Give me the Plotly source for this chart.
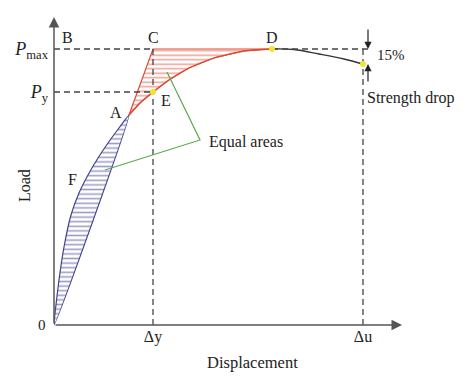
import plotly.graph_objects as go

# ---- data (schematic units) ----
delta_y = 99      # yield displacement
delta_u = 309     # ultimate displacement
P_y = 233         # yield load
P_max = 276       # peak load

rise_x = [0, 1.5, 5, 10, 17, 25, 34, 44, 54, 65, 75]       # O -> A
rise_y = [0, 16, 45, 78, 110, 132, 150, 167, 182, 197, 210]
peak_x = [75, 86, 99, 115, 135, 160, 190, 218]              # A -> D
peak_y = [210, 222, 233, 245, 257, 267, 274, 276]
drop_x = [218, 240, 265, 290, 309]                          # D -> end
drop_y = [276, 275.5, 271, 266, 261]

green_x = [51, 146, 113]
green_y = [155, 185, 253]

X_MAX = 348
Y_MAX = 308

FONT = "Liberation Serif"
BLUE = "#40408c"
RED = "#de4a32"
GREEN = "#5ea84e"
DASH = "#444444"
AX = "#555555"
TXT = "#222222"

fig = go.Figure()

# blue hatched area (curve vs secant O-A)
fig.add_trace(go.Scatter(
    x=rise_x + [rise_x[0]], y=rise_y + [rise_y[0]],
    mode="lines", line=dict(color=BLUE, width=1.2, shape="spline", smoothing=0.5),
    fill="toself", fillcolor="rgba(0,0,0,0)",
    fillpattern=dict(shape="-", fgcolor=BLUE, bgcolor="rgba(0,0,0,0)", size=4.6, solidity=0.35),
    hoverinfo="skip"))

# red hatched area (A-C-D vs curve)
fig.add_trace(go.Scatter(
    x=[peak_x[0], delta_y, peak_x[-1]] + peak_x[::-1],
    y=[peak_y[0], P_max, peak_y[-1]] + peak_y[::-1],
    mode="lines", line=dict(color=RED, width=1.2),
    fill="toself", fillcolor="rgba(0,0,0,0)",
    fillpattern=dict(shape="-", fgcolor=RED, bgcolor="rgba(0,0,0,0)", size=4.5, solidity=0.35),
    hoverinfo="skip"))
fig.add_trace(go.Scatter(x=peak_x, y=peak_y, mode="lines",
                         line=dict(color=RED, width=1.3, shape="spline", smoothing=0.6), hoverinfo="skip"))

# descending branch
fig.add_trace(go.Scatter(x=drop_x, y=drop_y, mode="lines",
                         line=dict(color="#333333", width=1.3, shape="spline"), hoverinfo="skip"))

# dashed guides
dash = dict(color=DASH, width=1.3, dash="6px,4px")
fig.add_trace(go.Scatter(x=[0, delta_y], y=[P_max, P_max], mode="lines", line=dash, hoverinfo="skip"))
fig.add_trace(go.Scatter(x=[drop_x[0], delta_u + 5], y=[P_max, P_max], mode="lines", line=dash, hoverinfo="skip"))
fig.add_trace(go.Scatter(x=[0, delta_y], y=[P_y, P_y], mode="lines", line=dash, hoverinfo="skip"))
fig.add_trace(go.Scatter(x=[delta_y, delta_y], y=[P_max, 0], mode="lines", line=dash, hoverinfo="skip"))
fig.add_trace(go.Scatter(x=[delta_u, delta_u], y=[P_max, 0], mode="lines", line=dash, hoverinfo="skip"))

# green leader line
fig.add_trace(go.Scatter(x=green_x, y=green_y, mode="lines",
                         line=dict(color=GREEN, width=1.2), hoverinfo="skip"))

# yellow key points
fig.add_trace(go.Scatter(x=[delta_y, drop_x[0], drop_x[-1]], y=[P_y, P_max, drop_y[-1]],
                         mode="markers", marker=dict(color="#f2e530", size=6), hoverinfo="skip"))

ann = []
# axes with arrowheads
ann.append(dict(x=X_MAX, y=0, ax=0, ay=0, xref="x", yref="y", axref="x", ayref="y",
                showarrow=True, arrowhead=2, arrowsize=1.4, arrowwidth=1.5, arrowcolor=AX,
                standoff=0, text=""))
ann.append(dict(x=0, y=Y_MAX, ax=0, ay=0, xref="x", yref="y", axref="x", ayref="y",
                showarrow=True, arrowhead=2, arrowsize=1.4, arrowwidth=1.5, arrowcolor=AX,
                standoff=0, text=""))
# 15% arrows
ann.append(dict(x=delta_u + 5, y=P_max, ax=delta_u + 5, ay=297, xref="x", yref="y", axref="x", ayref="y",
                showarrow=True, arrowhead=2, arrowsize=1.2, arrowwidth=1.2, arrowcolor="#222",
                standoff=0, text=""))
ann.append(dict(x=delta_u + 5, y=drop_y[-1], ax=delta_u + 5, ay=242, xref="x", yref="y", axref="x", ayref="y",
                showarrow=True, arrowhead=2, arrowsize=1.2, arrowwidth=1.2, arrowcolor="#222",
                standoff=0, text=""))

def lab(x, y, t, xa="center", size=16, angle=0):
    ann.append(dict(x=x, y=y, text=t, showarrow=False, xref="x", yref="y", textangle=angle,
                    xanchor=xa, yanchor="middle", font=dict(family=FONT, size=size, color=TXT)))

def plab(x, y, t, xa="center", size=16, angle=0):
    # position given in data units, placed in paper coordinates (outside the plot area)
    ann.append(dict(x=x / X_MAX, y=y / Y_MAX, text=t, showarrow=False, xref="paper", yref="paper",
                    textangle=angle, xanchor=xa, yanchor="middle",
                    font=dict(family=FONT, size=size, color=TXT)))

lab(13, 288, "B")
lab(99, 288, "C")
lab(218, 288, "D")
lab(62, 213, "A")
lab(112, 225, "E")
lab(18, 146, "F")
lab(153, 183, "Equal areas", xa="left")
lab(321, 270, "15%", xa="left", size=15)
lab(311, 227, "Strength drop", xa="left")
# axis titles and origin label
plab(198, -37, "Displacement", size=16.5)
plab(-30, 140, "Load", size=16, angle=-90)
plab(-12, 0, "0", size=15)

fig.update_layout(
    width=466, height=378,
    margin=dict(l=46, r=72, t=9, b=61, autoexpand=False),
    paper_bgcolor="white", plot_bgcolor="white",
    showlegend=False,
    annotations=ann,
    font=dict(family=FONT, size=16, color=TXT),
    xaxis=dict(range=[0, X_MAX], showgrid=False, zeroline=False, showline=False, automargin=False,
               tickvals=[delta_y, delta_u], ticktext=["Δy", "Δu"],
               ticks="", ticklabelstandoff=0, tickfont=dict(family=FONT, size=16, color=TXT)),
    yaxis=dict(range=[0, Y_MAX], showgrid=False, zeroline=False, showline=False, automargin=False,
               tickvals=[P_y, P_max],
               ticktext=["<i>P</i><sub>y</sub>", "<i>P</i><sub>max</sub>"],
               ticks="", ticklabelstandoff=5, tickfont=dict(family=FONT, size=18, color=TXT)),
)

fig.write_html("out.html")
